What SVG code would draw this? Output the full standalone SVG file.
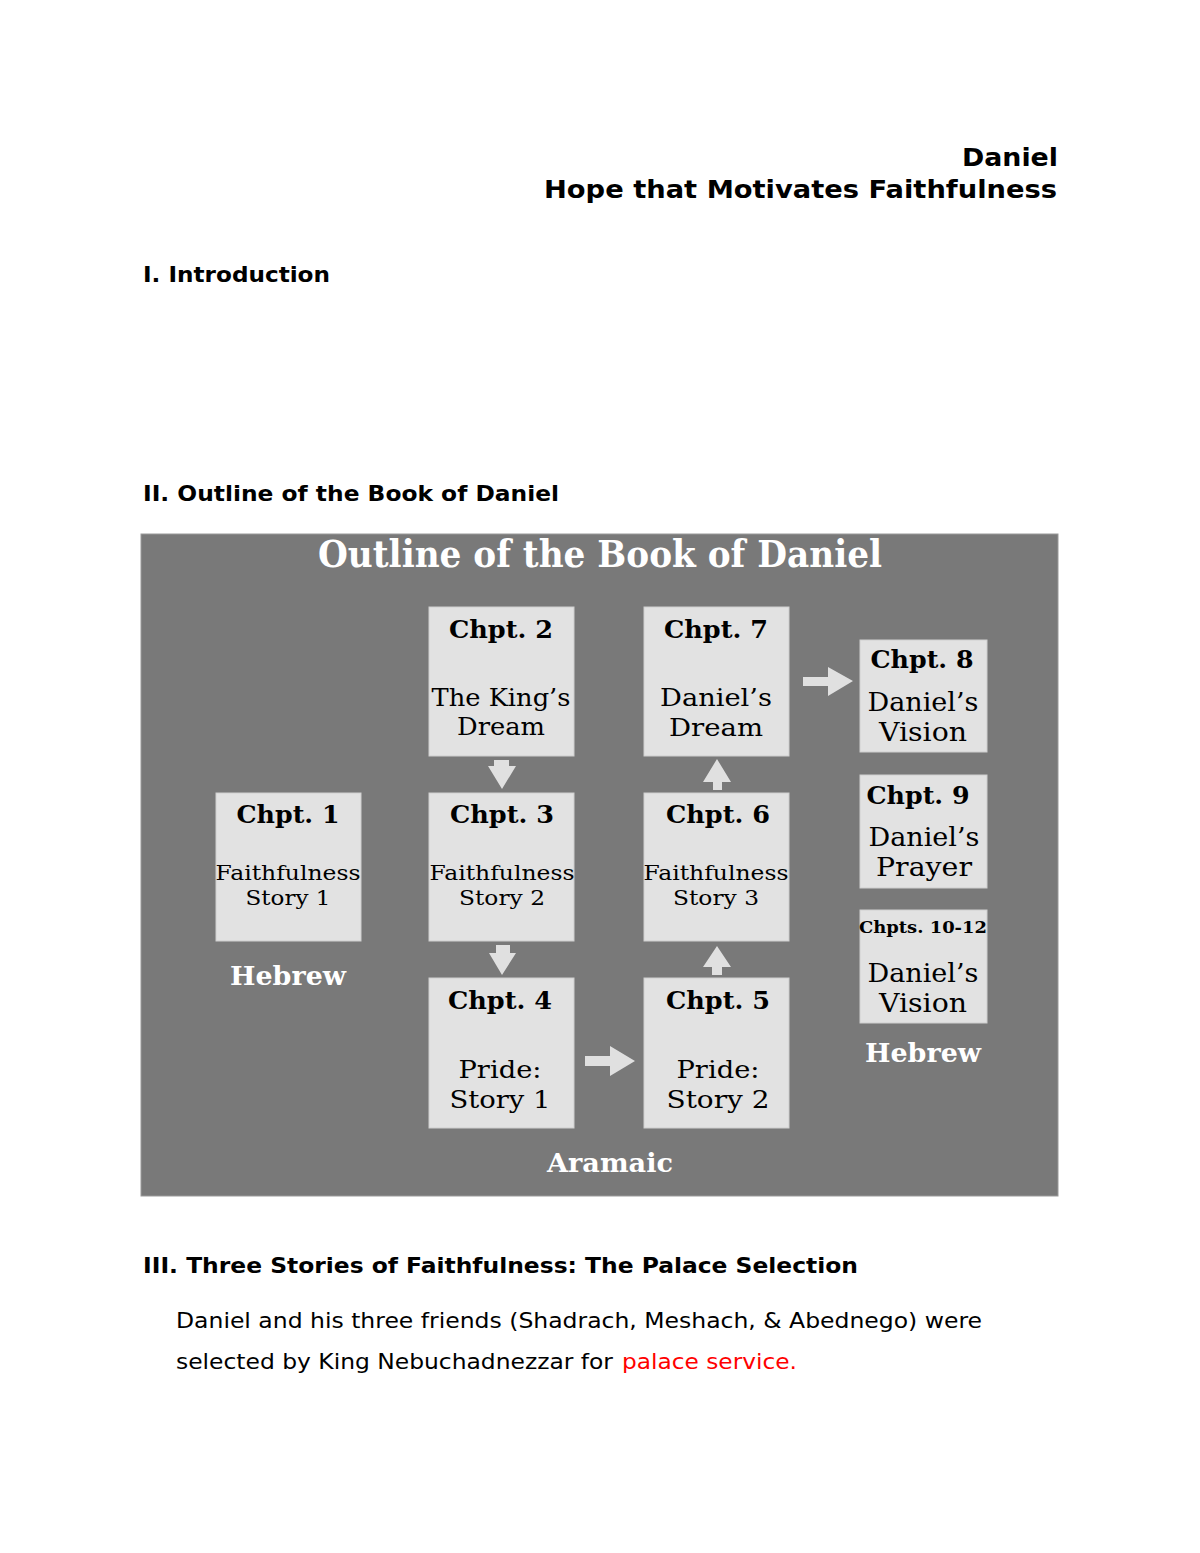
<svg xmlns="http://www.w3.org/2000/svg" width="1200" height="1553" viewBox="0 0 1200 1553">
<style>
.doc{font-family:"DejaVu Sans","Liberation Sans",sans-serif;fill:#000}
.b{font-weight:bold}
.box{fill:#e2e2e2;stroke:#cfcfcf;stroke-width:1}
.arr{fill:#e0e0e0}
.hd{font-family:"DejaVu Serif","Liberation Serif",serif;font-weight:bold;fill:#000;text-anchor:middle}
.tx{font-family:"DejaVu Serif","Liberation Serif",serif;fill:#000;text-anchor:middle}
.wl{font-family:"DejaVu Serif","Liberation Serif",serif;font-weight:bold;fill:#fff;text-anchor:middle}
</style>
<rect width="1200" height="1553" fill="#fff"/>
<g id="header">
<text class="doc b" x="1058" y="166" font-size="24" text-anchor="end" textLength="96" lengthAdjust="spacingAndGlyphs">Daniel</text>
<text class="doc b" x="1057" y="198" font-size="24" text-anchor="end" textLength="513" lengthAdjust="spacingAndGlyphs">Hope that Motivates Faithfulness</text>
<text class="doc b" x="143" y="282" font-size="22" textLength="187" lengthAdjust="spacingAndGlyphs">I. Introduction</text>
<text class="doc b" x="143" y="501" font-size="22" textLength="416" lengthAdjust="spacingAndGlyphs">II. Outline of the Book of Daniel</text>
</g>
<g id="panel">
<rect x="141" y="534" width="917" height="662" fill="#797979" stroke="#9a9a9a" stroke-width="1"/>
<text class="wl" x="600" y="567" font-size="38" textLength="564" lengthAdjust="spacingAndGlyphs">Outline of the Book of Daniel</text>
<text class="wl" x="288" y="985" font-size="26" textLength="116" lengthAdjust="spacingAndGlyphs">Hebrew</text>
<text class="wl" x="923" y="1062" font-size="26" textLength="116" lengthAdjust="spacingAndGlyphs">Hebrew</text>
<text class="wl" x="610" y="1172" font-size="26" textLength="126" lengthAdjust="spacingAndGlyphs">Aramaic</text>
</g>
<g id="connectors">
<polygon class="arr" points="494,760 509,760 509,766 516,766 502,789 488,766 494,766"/>
<polygon class="arr" points="496,945 510,945 510,953 516,953 502,975 489,953 496,953"/>
<polygon class="arr" points="585,1056 610,1056 610,1046 635,1061 610,1076 610,1066 585,1066"/>
<polygon class="arr" points="712,975 722,975 722,967 731,967 717,946 703,967 712,967"/>
<polygon class="arr" points="713,790 722,790 722,782 731,782 717,759 703,782 713,782"/>
<polygon class="arr" points="803,677 828,677 828,667 853,681 828,696 828,686 803,686"/>
</g>
<g id="ch1">
<rect class="box" x="216" y="793" width="145" height="148"/>
<text class="hd" x="288" y="823" font-size="25" textLength="103" lengthAdjust="spacingAndGlyphs">Chpt. 1</text>
<text class="tx" x="288" y="880" font-size="21" textLength="145" lengthAdjust="spacingAndGlyphs">Faithfulness</text>
<text class="tx" x="288" y="905" font-size="21" textLength="85" lengthAdjust="spacingAndGlyphs">Story 1</text>
</g>
<g id="ch2">
<rect class="box" x="429" y="607" width="145" height="149"/>
<text class="hd" x="501" y="638" font-size="25" textLength="104" lengthAdjust="spacingAndGlyphs">Chpt. 2</text>
<text class="tx" x="501" y="706" font-size="25" textLength="139" lengthAdjust="spacingAndGlyphs">The King’s</text>
<text class="tx" x="501" y="735" font-size="25" textLength="88" lengthAdjust="spacingAndGlyphs">Dream</text>
</g>
<g id="ch3">
<rect class="box" x="429" y="793" width="145" height="148"/>
<text class="hd" x="502" y="823" font-size="25" textLength="104" lengthAdjust="spacingAndGlyphs">Chpt. 3</text>
<text class="tx" x="502" y="880" font-size="21" textLength="145" lengthAdjust="spacingAndGlyphs">Faithfulness</text>
<text class="tx" x="502" y="905" font-size="21" textLength="86" lengthAdjust="spacingAndGlyphs">Story 2</text>
</g>
<g id="ch4">
<rect class="box" x="429" y="978" width="145" height="150"/>
<text class="hd" x="500" y="1009" font-size="25" textLength="104" lengthAdjust="spacingAndGlyphs">Chpt. 4</text>
<text class="tx" x="500" y="1078" font-size="25" textLength="83" lengthAdjust="spacingAndGlyphs">Pride:</text>
<text class="tx" x="500" y="1108" font-size="25" textLength="101" lengthAdjust="spacingAndGlyphs">Story 1</text>
</g>
<g id="ch5">
<rect class="box" x="644" y="978" width="145" height="150"/>
<text class="hd" x="718" y="1009" font-size="25" textLength="104" lengthAdjust="spacingAndGlyphs">Chpt. 5</text>
<text class="tx" x="718" y="1078" font-size="25" textLength="83" lengthAdjust="spacingAndGlyphs">Pride:</text>
<text class="tx" x="718" y="1108" font-size="25" textLength="103" lengthAdjust="spacingAndGlyphs">Story 2</text>
</g>
<g id="ch6">
<rect class="box" x="644" y="793" width="145" height="148"/>
<text class="hd" x="718" y="823" font-size="25" textLength="104" lengthAdjust="spacingAndGlyphs">Chpt. 6</text>
<text class="tx" x="716" y="880" font-size="21" textLength="145" lengthAdjust="spacingAndGlyphs">Faithfulness</text>
<text class="tx" x="716" y="905" font-size="21" textLength="86" lengthAdjust="spacingAndGlyphs">Story 3</text>
</g>
<g id="ch7">
<rect class="box" x="644" y="607" width="145" height="149"/>
<text class="hd" x="716" y="638" font-size="25" textLength="104" lengthAdjust="spacingAndGlyphs">Chpt. 7</text>
<text class="tx" x="716" y="706" font-size="25" textLength="112" lengthAdjust="spacingAndGlyphs">Daniel’s</text>
<text class="tx" x="716" y="736" font-size="25" textLength="94" lengthAdjust="spacingAndGlyphs">Dream</text>
</g>
<g id="ch8">
<rect class="box" x="860" y="640" width="127" height="112"/>
<text class="hd" x="922" y="668" font-size="25" textLength="103" lengthAdjust="spacingAndGlyphs">Chpt. 8</text>
<text class="tx" x="923" y="711" font-size="26" textLength="111" lengthAdjust="spacingAndGlyphs">Daniel’s</text>
<text class="tx" x="923" y="741" font-size="26" textLength="88" lengthAdjust="spacingAndGlyphs">Vision</text>
</g>
<g id="ch9">
<rect class="box" x="860" y="775" width="127" height="113"/>
<text class="hd" x="918" y="804" font-size="25" textLength="103" lengthAdjust="spacingAndGlyphs">Chpt. 9</text>
<text class="tx" x="924" y="846" font-size="26" textLength="111" lengthAdjust="spacingAndGlyphs">Daniel’s</text>
<text class="tx" x="924" y="876" font-size="26" textLength="96" lengthAdjust="spacingAndGlyphs">Prayer</text>
</g>
<g id="ch10">
<rect class="box" x="860" y="910" width="127" height="113"/>
<text class="hd" x="923" y="933" font-size="16" textLength="128" lengthAdjust="spacingAndGlyphs">Chpts. 10-12</text>
<text class="tx" x="923" y="982" font-size="26" textLength="111" lengthAdjust="spacingAndGlyphs">Daniel’s</text>
<text class="tx" x="923" y="1012" font-size="26" textLength="88" lengthAdjust="spacingAndGlyphs">Vision</text>
</g>
<g id="section3">
<text class="doc b" x="143" y="1273" font-size="22" textLength="715" lengthAdjust="spacingAndGlyphs">III. Three Stories of Faithfulness: The Palace Selection</text>
<text class="doc" x="176" y="1328" font-size="22" textLength="806" lengthAdjust="spacingAndGlyphs">Daniel and his three friends (Shadrach, Meshach, &amp; Abednego) were</text>
<text class="doc" x="176" y="1369" font-size="22" textLength="437" lengthAdjust="spacingAndGlyphs">selected by King Nebuchadnezzar for</text>
<text class="doc" x="622" y="1369" font-size="22" style="fill:#ff0000" textLength="175" lengthAdjust="spacingAndGlyphs">palace service.</text>
</g>
</svg>
